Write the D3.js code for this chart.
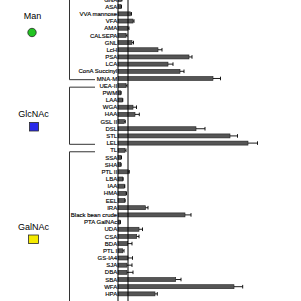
<!DOCTYPE html>
<html>
<head>
<meta charset="utf-8">
<script src="https://cdn.jsdelivr.net/npm/d3@7"></script>
<style>
  body { margin: 0; background: #fff; }
  svg { display: block; font-family: 'Liberation Sans', Arial, sans-serif; }
</style>
</head>
<body>
<svg id="chart"></svg>
<script>
// lectin names, top to bottom
const lectins = ['GNA', 'ASA', 'VVA mannose', 'VFA', 'AMA', 'CALSEPA', 'GNL', 'LcH', 'PSA', 'LCA',
  'ConA Succinyl', 'MNA-M', 'UEA-II', 'PWM', 'LAA', 'WGA', 'HAA', 'GSL II', 'DSL', 'STL', 'LEL',
  'TL', 'SSA', 'SHA', 'PTL II', 'LBA', 'IAA', 'HMA', 'EEL', 'IRA', 'Black bean crude', 'PTA GalNAc',
  'UDA', 'CSA', 'BDA', 'PTL I', 'GS-IA4', 'SJA', 'DBA', 'SBA', 'WFA', 'HPA'];
const signal = [3.5, 3, 12.5, 15, 10, 8, 14, 40, 71, 50,
  62, 95, 8, 2.7, 4.3, 15, 17, 6.3, 78, 112, 130,
  7, 3, 2.7, 10.3, 4.7, 6.3, 8, 6.7, 27.5, 67, 2,
  21, 18.7, 9.7, 4.7, 10, 9, 9, 57.7, 116, 37];
const errors = [0.5, 0.5, 1, 1, 1, 1, 1.5, 4, 3, 5,
  4, 7.5, 1, 0.5, 0.5, 3.5, 4.3, 1, 9, 7.5, 9.5,
  1, 0.5, 0.5, 1, 0.5, 0.5, 0.5, 0.5, 2.5, 6, 0.5,
  3.5, 2.3, 4.3, 1.3, 4.5, 5, 6, 5.3, 8.7, 2.3];
const threshold = 10;

// sugar groups: name, first lectin, last lectin
const groupNames = ['Man', 'GlcNAc', 'GalNAc'];
const groupFirst = ['GNA', 'UEA-II', 'TL'];
const groupLast = ['MNA-M', 'LEL', 'HPA'];

const width = 301, height = 301;
const axisX = 118;

let svg = d3.select('#chart').attr('width', width).attr('height', height);

let data = lectins.map((name, i) => ({ name: name, value: signal[i], err: errors[i] }));

let yScale = d3
  .scaleBand()
  .domain(lectins)
  .range([-4.09, -4.09 + lectins.length * 7.18]);

let xScale = d3
  .scaleLinear()
  .domain([0, width - axisX])
  .range([axisX, width]);

let mid = d => yScale(d) + yScale.bandwidth() / 2;

// brackets for groups
groupNames.forEach((g, i) => {
  let top = i === 0 ? -5 : mid(groupFirst[i]) + 1.5;
  let bottom = i === 2 ? height + 5 : mid(groupLast[i]) + 1.2;
  svg
    .append('path')
    .attr('d', 'M95,' + top + 'H69.5V' + bottom + 'H95')
    .attr('fill', 'none')
    .attr('stroke', '#333')
    .attr('stroke-width', 1);
});

// lectin labels
svg
  .append('g')
  .selectAll('text')
  .data(data)
  .enter()
  .append('text')
  .attr('x', axisX - 0.8)
  .attr('y', d => mid(d.name) + 2.1)
  .attr('text-anchor', 'end')
  .attr('font-size', '6px')
  .attr('fill', '#000')
  .attr('stroke', '#000')
  .attr('stroke-width', 0.15)
  .text(d => d.name);

// bars
svg
  .append('g')
  .selectAll('rect')
  .data(data)
  .enter()
  .append('rect')
  .attr('x', xScale(0))
  .attr('y', d => mid(d.name) - 2)
  .attr('width', d => xScale(d.value) - xScale(0))
  .attr('height', 4)
  .attr('fill', '#555')
  .attr('stroke', '#222')
  .attr('stroke-width', 0.6);

// error bars
let eb = svg.append('g').attr('stroke', '#000').attr('stroke-width', 0.9);
data.forEach(d => {
  let y = mid(d.name);
  eb.append('line')
    .attr('x1', xScale(d.value)).attr('x2', xScale(d.value + d.err))
    .attr('y1', y).attr('y2', y);
  eb.append('line')
    .attr('x1', xScale(d.value + d.err)).attr('x2', xScale(d.value + d.err))
    .attr('y1', y - 1.8).attr('y2', y + 1.8);
});

// axis line and threshold line
svg
  .append('line')
  .attr('x1', xScale(0)).attr('x2', xScale(0))
  .attr('y1', 0).attr('y2', height)
  .attr('stroke', '#000');
svg
  .append('line')
  .attr('x1', xScale(threshold)).attr('x2', xScale(threshold))
  .attr('y1', 0).attr('y2', height)
  .attr('stroke', '#000');

// legend
let legend = svg.append('g').attr('font-size', '9px').attr('text-anchor', 'middle');
legend.append('text').attr('x', 32.5).attr('y', 19).text('Man');
legend.append('circle')
  .attr('cx', 32).attr('cy', 32.5).attr('r', 4.2)
  .attr('fill', '#22c422').attr('stroke', '#2a2a2a').attr('stroke-width', 0.8);

legend.append('text').attr('x', 33.5).attr('y', 116.5).text('GlcNAc');
legend.append('rect')
  .attr('x', 29.5).attr('y', 122.5).attr('width', 9).attr('height', 8.5)
  .attr('fill', '#2b2bea').attr('stroke', '#2a2a2a').attr('stroke-width', 0.8);

legend.append('text').attr('x', 33.5).attr('y', 229.5).text('GalNAc');
legend.append('rect')
  .attr('x', 28.5).attr('y', 235).attr('width', 10).attr('height', 8.5)
  .attr('fill', '#f4ea00').attr('stroke', '#2a2a2a').attr('stroke-width', 0.8);
</script>
</body>
</html>
